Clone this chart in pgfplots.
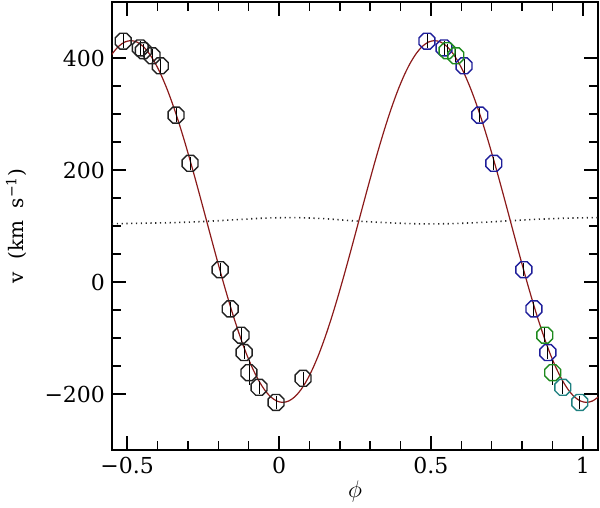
\documentclass[border=0pt]{standalone}
\usepackage{pgfplots}
\pgfplotsset{compat=1.18}
\usepackage{fontspec}
\setmainfont{DejaVu Serif}
\definecolor{fitred}{HTML}{8B1A1A}
\definecolor{ptblue}{HTML}{1F1F9A}
\definecolor{ptgreen}{HTML}{1E8A1E}
\definecolor{ptcyan}{HTML}{1F8080}
\definecolor{ptblack}{HTML}{222222}
\pgfdeclareplotmark{oct}{%
  \pgfpathmoveto{\pgfpointpolar{22.5}{\pgfplotmarksize}}%
  \pgfpathlineto{\pgfpointpolar{67.5}{\pgfplotmarksize}}%
  \pgfpathlineto{\pgfpointpolar{112.5}{\pgfplotmarksize}}%
  \pgfpathlineto{\pgfpointpolar{157.5}{\pgfplotmarksize}}%
  \pgfpathlineto{\pgfpointpolar{202.5}{\pgfplotmarksize}}%
  \pgfpathlineto{\pgfpointpolar{247.5}{\pgfplotmarksize}}%
  \pgfpathlineto{\pgfpointpolar{292.5}{\pgfplotmarksize}}%
  \pgfpathlineto{\pgfpointpolar{337.5}{\pgfplotmarksize}}%
  \pgfpathclose
  \pgfusepathqstroke}
\pgfplotstableread{
x y e
-0.513 430 12
-0.457 418 12
-0.447 413 12
-0.418 404 12
-0.391 386 12
-0.339 298 12
-0.293 212 12
-0.194 22 12
-0.161 -48 12
-0.125 -95 12
-0.115 -126 12
-0.099 -162 22
-0.066 -188 12
-0.010 -215 12
0.079 -172 12
}\blackpts
\pgfplotstableread{
x y e
0.487 430 12
0.543 418 12
0.609 386 12
0.661 298 12
0.707 212 12
0.806 22 12
0.839 -48 12
0.885 -126 12
}\bluepts
\pgfplotstableread{
x y e
0.553 413 12
0.582 404 12
0.875 -95 12
0.901 -162 22
}\greenpts
\pgfplotstableread{
x y e
0.934 -188 12
0.990 -215 12
}\cyanpts
\begin{document}
\begin{tikzpicture}
\path[use as bounding box] (-56pt,-29pt) rectangle (244pt,225pt);
\begin{axis}[
  at={(0,0)}, anchor=south west,
  scale only axis, width=243pt, height=224pt,
  xmin=-0.55, xmax=1.05, ymin=-300, ymax=500,
  xtick={-0.5,0,0.5,1}, xticklabels={−0.5,0,0.5,1},
  ytick={-200,0,200,400}, yticklabels={−200,0,200,400},
  minor x tick num=4, minor y tick num=3,
  major tick length=7pt, minor tick length=4.5pt,
  tick style={black, line width=0.8pt},
  axis line style={line width=1pt},
  ticklabel style={font=\fontsize{11}{13}\selectfont},
  xlabel={\fontsize{13}{15}\selectfont$\phi$},
  ylabel={v\ \ (km\ \ s\textsuperscript{−1})},
  label style={font=\fontsize{12}{14}\selectfont},
  every axis y label/.style={at={(axis description cs:-0.197,0.5)}, rotate=90, anchor=center},
  every axis x label/.style={at={(axis description cs:0.5,-0.092)}, anchor=center},
]
\addplot[draw=black!85, line width=0.8pt, dash pattern=on 0.6pt off 1.8pt, smooth] coordinates {
(-0.55,104)(-0.45,105)(-0.35,106)(-0.25,108)(-0.15,111)(-0.05,114)(0.05,115)(0.15,113)(0.25,109)(0.35,106)(0.45,104)(0.55,104)(0.65,106)(0.75,109)(0.85,112)(0.95,114)(1.05,115)
};
\addplot[fitred, line width=0.6pt, smooth] coordinates {
(-0.568,391.0)(-0.548,408.3)(-0.528,420.9)(-0.508,428.5)(-0.488,431.0)(-0.468,428.5)(-0.448,420.9)(-0.428,408.3)(-0.408,391.0)(-0.388,369.3)(-0.368,343.5)(-0.348,313.9)(-0.328,281.1)(-0.308,245.5)(-0.288,207.8)(-0.268,168.5)(-0.248,128.3)(-0.228,87.7)(-0.208,47.5)(-0.188,8.2)(-0.168,-29.5)(-0.148,-65.1)(-0.128,-97.9)(-0.108,-127.5)(-0.088,-153.3)(-0.068,-175.0)(-0.048,-192.3)(-0.028,-204.9)(-0.008,-212.4)
(0.012,-215.0)(0.032,-212.4)(0.052,-204.9)(0.072,-192.3)(0.092,-175.0)(0.112,-153.3)(0.132,-127.5)(0.152,-97.9)(0.172,-65.1)(0.192,-29.5)(0.212,8.2)(0.232,47.5)(0.252,87.7)(0.272,128.3)(0.292,168.5)(0.312,207.8)(0.332,245.5)(0.352,281.1)(0.372,313.9)(0.392,343.5)(0.412,369.3)(0.432,391.0)(0.452,408.3)(0.472,420.9)(0.492,428.5)(0.512,431.0)
(0.532,428.5)(0.552,420.9)(0.572,408.3)(0.592,391.0)(0.612,369.3)(0.632,343.5)(0.652,313.9)(0.672,281.1)(0.692,245.5)(0.712,207.8)(0.732,168.5)(0.752,128.3)(0.772,87.7)(0.792,47.5)(0.812,8.2)(0.832,-29.5)(0.852,-65.1)(0.872,-97.9)(0.892,-127.5)(0.912,-153.3)(0.932,-175.0)(0.952,-192.3)(0.972,-204.9)(0.992,-212.4)(1.012,-215.0)(1.032,-212.4)(1.052,-204.9)
};
\addplot[only marks, mark=oct, mark size=4.3pt, draw=ptblack, mark options={line width=0.7pt},
  error bars/.cd, y dir=both, y explicit, error mark=none, error bar style={black, line width=0.45pt}]
  table[x=x, y=y, y error=e] {\blackpts};
\addplot[only marks, mark=oct, mark size=4.3pt, draw=ptblue, mark options={line width=0.7pt},
  error bars/.cd, y dir=both, y explicit, error mark=none, error bar style={black, line width=0.45pt}]
  table[x=x, y=y, y error=e] {\bluepts};
\addplot[only marks, mark=oct, mark size=4.3pt, draw=ptgreen, mark options={line width=0.7pt},
  error bars/.cd, y dir=both, y explicit, error mark=none, error bar style={black, line width=0.45pt}]
  table[x=x, y=y, y error=e] {\greenpts};
\addplot[only marks, mark=oct, mark size=4.3pt, draw=ptcyan, mark options={line width=0.7pt},
  error bars/.cd, y dir=both, y explicit, error mark=none, error bar style={black, line width=0.45pt}]
  table[x=x, y=y, y error=e] {\cyanpts};
\end{axis}
\end{tikzpicture}
\end{document}
